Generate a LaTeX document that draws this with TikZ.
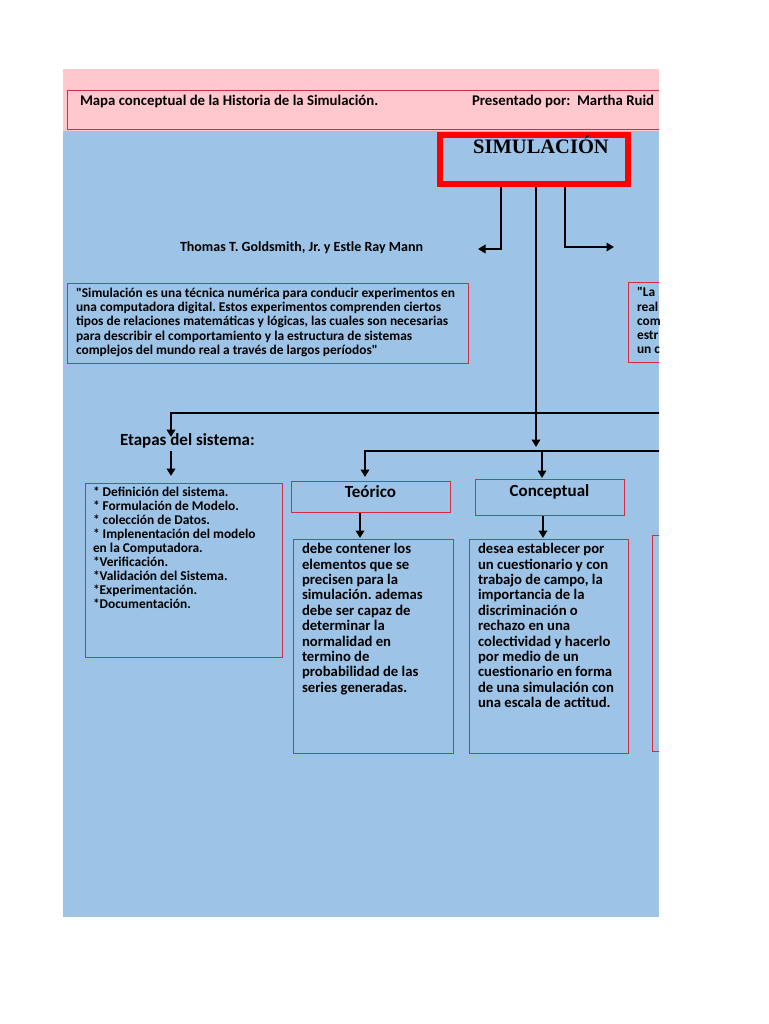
\documentclass[tikz,border=0pt]{standalone}
\usepackage{fontspec}
\setmainfont{Carlito}[Ligatures=TeXOff]
\newfontfamily\timesf{Liberation Serif}
\usetikzlibrary{arrows.meta,calc}
\definecolor{bgblue}{RGB}{157,195,230}
\definecolor{bgpink}{RGB}{255,199,206}
\definecolor{boxred}{RGB}{214,44,66}
\definecolor{simred}{RGB}{255,0,0}
\newcommand{\fTitle}{\bfseries\fontsize{14.8}{16}\selectfont}
\newcommand{\fQuote}{\bfseries\fontsize{13.4}{14.2}\selectfont}
\newcommand{\fList}{\bfseries\fontsize{13.4}{14}\selectfont}
\newcommand{\fBody}{\bfseries\fontsize{14.7}{15.4}\selectfont}
\newcommand{\fHead}{\bfseries\fontsize{17}{18}\selectfont}
\frenchspacing
\tikzset{
  every node/.style={outer sep=0pt},
  tbox/.style={draw=boxred, line width=1pt, inner xsep=9pt, inner ysep=0pt, anchor=north west},
  hbox/.style={draw=boxred, line width=1pt, inner sep=0pt, font=\fHead},
  lbl/.style={inner sep=0pt, anchor=base west},
  conn/.style={draw=black, line width=2.6pt, -{Triangle[length=7.5pt,width=8.5pt]}},
}
\begin{document}
\frenchspacing
\begin{tikzpicture}[x=1pt,y=-1pt]
\useasboundingbox (0,0) rectangle (768,1024);
\fill[white] (0,0) rectangle (768,1024);
\begin{scope}
\clip (63,69) rectangle (659,917);
\fill[bgpink] (63,69) rectangle (659,131);
\fill[bgblue] (63,131) rectangle (659,917);
% header
\node[draw=boxred, line width=1pt, anchor=north west, minimum width=603pt, minimum height=39pt, inner sep=0pt] (head) at (67,91) {};
\node[lbl, font=\fTitle] (title) at (80,105.5) {Mapa conceptual de la Historia de la Simulación.};
\node[lbl, font=\fTitle] (author) at (472,105.5) {Presentado por:\ \ Martha Ruid};
% main box
\node[draw=simred, line width=5.5pt, minimum width=188pt, minimum height=49pt, inner sep=0pt, anchor=north west,
  label={[anchor=base, inner sep=0pt, xshift=7pt, yshift=-19pt, font=\timesf\bfseries\fontsize{20.5}{22}\selectfont]north:SIMULACIÓN}] (sim) at (440,135) {};
% authors line
\node[lbl, font=\bfseries\fontsize{14}{16}\selectfont] (thomas) at (180,251.3) {Thomas T. Goldsmith, Jr. y Estle Ray Mann};
% quote boxes
\node[tbox] (quote) at (67,283) {\parbox[c][80pt][t]{383pt}{\vspace*{4.5pt}\raggedright\fQuote\strut"Simulación es una técnica numérica para conducir experimentos en\\
una computadora digital. Estos experimentos comprenden ciertos\\
tipos de relaciones matemáticas y lógicas, las cuales son necesarias\\
para describir el comportamiento y la estructura de sistemas\\
complejos del mundo real a través de largos períodos"}};
\node[tbox] (quote2) at (628,282) {\parbox[c][80pt][t]{60pt}{\vspace*{5pt}\raggedright\fQuote\strut"La\\ real\\ com\\ estr\\ un c}};
% etapas
\node[lbl, font=\fHead] (etapas) at (120,445) {Etapas del sistema:};
\node[tbox, inner xsep=8pt] (etbox) at (85,483) {\parbox[c][174pt][t]{181pt}{\vspace*{4pt}\raggedright\fList\strut * Definición del sistema.\\{}
* Formulación de Modelo.\\{}
* colección de Datos.\\{}
* Implenentación del modelo\\{}
en la Computadora.\\{}
*Verificación.\\{}
*Validación del Sistema.\\{}
*Experimentación.\\{}
*Documentación.}};
% teorico / conceptual
\node[hbox, minimum width=159pt, minimum height=31pt, text height=6pt, text depth=5pt] (teoT) at (370.5,496.5) {Teórico};
\node[hbox, minimum width=149pt, minimum height=36pt, text height=5pt, text depth=7pt] (conT) at (549.5,497) {Conceptual};
\node[tbox] (teoB) at (293,539) {\parbox[c][214pt][t]{142pt}{\vspace*{4pt}\raggedright\fBody\strut debe contener los\\
elementos que se\\
precisen para la\\
simulación. ademas\\
debe ser capaz de\\
determinar la\\
normalidad en\\
termino de\\
probabilidad de las\\
series generadas.}};
\node[tbox] (conB) at (469,539) {\parbox[c][214pt][t]{141pt}{\vspace*{4pt}\raggedright\fBody\strut desea establecer por\\
un cuestionario y con\\
trabajo de campo, la\\
importancia de la\\
discriminación o\\
rechazo en una\\
colectividad y hacerlo\\
por medio de un\\
cuestionario en forma\\
de una simulación con\\
una escala de actitud.}};
\node[draw=boxred, line width=1pt, anchor=north west, minimum width=60pt, minimum height=216pt, inner sep=0pt] (rightB) at (652,535) {};
% connector guides
\coordinate (tL) at (478,249);
\coordinate (tR) at (614,247);
\coordinate (h1r) at (670,413);
\coordinate (h2r) at (670,451);
\coordinate (jc) at (536,447);
\coordinate (xL) at (501,0);
\coordinate (xR) at (565,0);
\coordinate (xE) at (171,0);
\coordinate (xT) at (365,0);
\coordinate (xC) at (542,0);
\coordinate (xTb) at (360,0);
\coordinate (xCb) at (543,0);
% connectors
\draw[conn] ($(sim.south -| xL)+(0,2.75)$) |- (tL);
\draw[conn] ($(sim.south -| xR)+(0,2.75)$) |- (tR);
\draw[conn] ($(sim.south -| jc)+(0,2.75)$) -- (jc);
\draw[conn] (h1r) -| ($(etapas.north -| xE)+(0,4)$);
\draw[conn] ($(etapas.south -| xE)+(0,3)$) -- ($(etbox.north -| xE)+(0,-7)$);
\draw[conn] (h2r) -| ($(teoT.north -| xT)+(0,-4)$);
\draw[conn] (h2r -| xC) -- ($(conT.north -| xC)+(0,-1)$);
\draw[conn] ($(teoT.south -| xTb)+(0,1)$) -- ($(teoB.north -| xTb)+(0,-1)$);
\draw[conn] ($(conT.south -| xCb)+(0,1)$) -- ($(conB.north -| xCb)+(0,-1)$);
\end{scope}
\end{tikzpicture}
\end{document}
